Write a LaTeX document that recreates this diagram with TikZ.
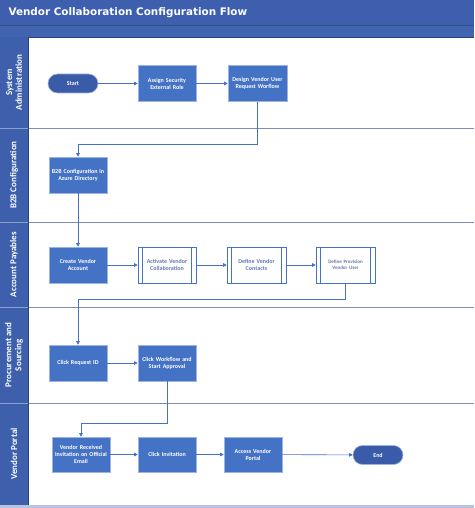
\documentclass[tikz,border=0pt]{standalone}
\usepackage{fontspec}
\setmainfont{Carlito}
\newfontfamily\titlefont{DejaVu Sans}
\usetikzlibrary{arrows.meta,calc}
\definecolor{titleblue}{HTML}{3D5FAD}
\definecolor{stripblue}{HTML}{4064B0}
\definecolor{headblue}{HTML}{3E60AC}
\definecolor{boxblue}{HTML}{4472C4}
\definecolor{boxedge}{HTML}{9DB3E0}
\definecolor{termblue}{HTML}{3A5BA8}
\definecolor{laneline}{HTML}{7D8DBF}
\definecolor{bottomstrip}{HTML}{B8C4DE}
\definecolor{subtext}{HTML}{6478B4}
\begin{document}
\begin{tikzpicture}[x=1pt,y=-1pt,
  procbox/.style={draw=boxedge,fill=boxblue,line width=0.6pt,minimum width=58pt,minimum height=36pt,
    text width=56pt,align=center,inner sep=1pt,text=white,font=\fontsize{6}{7}\selectfont\bfseries},
  subbox/.style={draw=boxblue,fill=white,line width=0.6pt,minimum width=58pt,minimum height=36pt,
    text width=48pt,align=center,inner sep=1pt,text=subtext,font=\fontsize{6}{7}\selectfont\bfseries,
    append after command={
      \pgfextra{\let\tikzlastnode\tikzlastnode}
      ([xshift=5pt]\tikzlastnode.north west) edge[draw=boxblue,line width=0.6pt] ([xshift=5pt]\tikzlastnode.south west)
      ([xshift=-5pt]\tikzlastnode.north east) edge[draw=boxblue,line width=0.6pt] ([xshift=-5pt]\tikzlastnode.south east)
    }},
  termbox/.style={draw=boxedge,fill=termblue,line width=0.6pt,minimum width=50pt,minimum height=19pt,
    rounded corners=9.5pt,inner sep=1pt,text=white,font=\fontsize{6}{7}\selectfont\bfseries},
  lanelabel/.style={rotate=90,text=white,align=center,font=\fontsize{9}{9.8}\selectfont\bfseries},
  arr/.style={draw=boxblue,line width=0.6pt,-{Triangle[length=3.5pt,width=3.5pt]}},
  lanesep/.style={draw=laneline,line width=0.8pt}
]
\useasboundingbox (0,0) rectangle (474,508);
% background
\fill[white] (0,0) rectangle (474,508);
% title bar
\fill[titleblue] (0,0) rectangle (474,25);
\fill[stripblue] (0,25) rectangle (474,37);
\draw[draw=headblue!80!black,line width=0.6pt] (0,25) -- (474,25);
\draw[draw=headblue!70!black,line width=0.5pt] (0,37) -- (474,37);
\node[anchor=west,text=white,font=\titlefont\fontsize{10.4}{12}\selectfont\bfseries] (title) at (5,13) {Vendor Collaboration Configuration Flow};
% bottom strip
\fill[bottomstrip] (0,505) rectangle (474,508);
% lane header column
\fill[headblue] (0,37) rectangle (28,505);
\foreach \yy in {128,222,307,403} {
  \draw[draw=white!40!headblue,line width=0.5pt] (0,\yy) -- (28,\yy);
  \draw[lanesep] (28,\yy) -- (474,\yy);
}
\draw[draw=headblue!70!black,line width=0.6pt] (28,37) -- (28,505);
% lane labels
\node[lanelabel] (l1) at (14,82.5) {System\\Administration};
\node[lanelabel] (l2) at (14,175) {B2B Configuration};
\node[lanelabel] (l3) at (14,264.5) {Account Payables};
\node[lanelabel] (l4) at (14,355) {Procurement and\\Sourcing};
\node[lanelabel] (l5) at (14,454) {Vendor Portal};
% nodes
\node[termbox] (start) at (73,83.5) {Start};
\node[procbox] (assign) at (167,83.5) {Assign Security\\External Role};
\node[procbox,minimum width=59pt] (design) at (257.5,83.5) {Design Vendor User\\Request Worflow};
\node[procbox] (b2b) at (78,175) {B2B Configuration in\\Azure Directory};
\node[procbox] (create) at (78,265) {Create Vendor\\Account};
\node[subbox] (activate) at (167,265) {Activate Vendor\\Collaboration};
\node[subbox,minimum width=59pt] (contacts) at (256.5,265) {Define Vendor\\Contacts};
\node[subbox,minimum width=59pt,font=\fontsize{5}{6.2}\selectfont\bfseries] (provision) at (345.5,265) {Define Provision\\Vendor User};
\node[procbox] (request) at (78,363) {Click Request ID};
\node[procbox] (workflow) at (167,363) {Click Workflow and\\Start Approval};
\node[procbox,minimum height=35pt] (received) at (81,454.5) {Vendor Received\\Invitation on Official\\Email};
\node[procbox,minimum height=35pt] (invitation) at (167,454.5) {Click Invitation};
\node[procbox,minimum height=35pt] (access) at (253,454.5) {Access Vendor\\Portal};
\node[termbox] (end) at (378,455) {End};
% junction coordinates
\coordinate (j1) at (0,144);
\coordinate (j2) at (0,299);
\coordinate (j3) at (0,423);
% connectors
\draw[arr] (start) -- (assign);
\draw[arr] (assign) -- (design);
\draw[arr] (design.south) -- (design.south |- j1) -| (b2b.north);
\draw[arr] (b2b) -- (create);
\draw[arr] (create) -- (activate);
\draw[arr] (activate) -- (contacts);
\draw[arr] (contacts) -- (provision);
\draw[arr] (provision.south) -- (provision.south |- j2) -| (request.north);
\draw[arr] (request) -- (workflow);
\draw[arr] (workflow.south) -- (workflow.south |- j3) -| (received.north);
\draw[arr] (received) -- (invitation);
\draw[arr] (invitation) -- (access);
\draw[arr] (access) -- (end);
\end{tikzpicture}
\end{document}
